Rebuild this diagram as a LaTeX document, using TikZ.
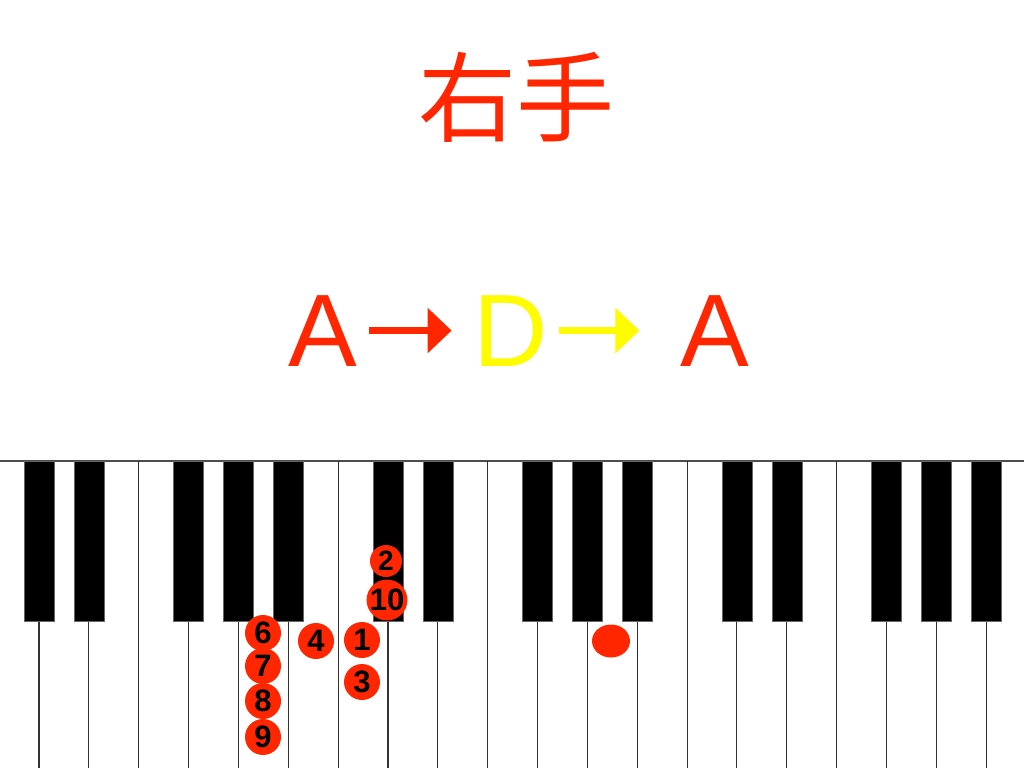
\documentclass[tikz,border=0pt]{standalone}
\usepackage{fontspec}
\usetikzlibrary{arrows.meta}
\setmainfont{Liberation Sans}
\newfontfamily\cjk{Noto Sans CJK JP}
\definecolor{pred}{RGB}{255,38,0}
\definecolor{pyel}{RGB}{255,251,0}
\begin{document}
\begin{tikzpicture}[x=1pt,y=-1pt,
  divider/.style={line width=1.1pt, draw=black!80},
  blackkey/.style={fill=black, draw=black!60, line width=0.4pt},
  finger/.style={circle, fill=pred, minimum size=36pt, inner sep=0pt,
    font=\bfseries\fontsize{31}{31}\selectfont, text=black},
  bigtxt/.style={anchor=base, inner sep=0pt, font=\fontsize{103}{103}\selectfont},
  fatarrow/.style={line width=7pt, -{Triangle[length=24pt,width=44pt]}}]
\useasboundingbox (0,0) rectangle (1024,768);
\fill[white] (0,0) rectangle (1024,768);
% title
\node[text=pred, font=\cjk\fontsize{98}{98}\selectfont, inner sep=0pt] (title) at (516,97) {右手};
% chord line
\node[bigtxt, text=pred] (a1) at (323,366) {A};
\node[bigtxt, text=pyel] (d) at (511,366) {D};
\node[bigtxt, text=pred] (a2) at (715,366) {A};
\draw[fatarrow, draw=pred, fill=pred, shorten <=11.5pt, shorten >=22pt] (a1.east) -- (d.west);
\draw[fatarrow, draw=pyel, fill=pyel, shorten <=11pt, shorten >=41pt] (d.east) -- (a2.west);
% keyboard
\draw[line width=1.2pt, draw=black!70] (0,461) -- (1024,461);
\foreach \k in {0,...,19} \draw[divider] ({39+49.85*\k},461) -- ({39+49.85*\k},768);
\foreach \k in {0,1,3,4,5,7,8,10,11,12,14,15,17,18,19}
  \filldraw[blackkey] ({39+49.85*\k-15},461) rectangle +(30,160);
% fingering
\node[finger] (f6) at (263,633) {6};
\node[finger] (f7) at (263,666) {7};
\node[finger] (f8) at (263,701) {8};
\node[finger] (f9) at (263,737) {9};
\node[finger] (f4) at (316,641) {4};
\node[finger] (f1) at (362,640) {1};
\node[finger] (f3) at (362,682) {3};
\node[finger, minimum size=32pt, font=\bfseries\fontsize{28}{28}\selectfont] (f2) at (386,561) {2};
\node[finger] (f10) at (387,600) {10};
\fill[pred] (611,641) ellipse [x radius=19, y radius=16.5];
\end{tikzpicture}
\end{document}
